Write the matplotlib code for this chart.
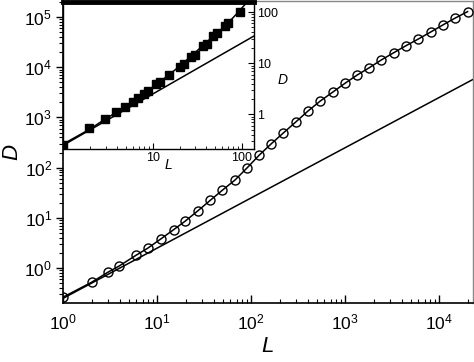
import matplotlib
matplotlib.use("Agg")
import matplotlib.pyplot as plt
import numpy as np

plt.rcParams['font.family'] = ['Liberation Sans', 'DejaVu Sans']
plt.rcParams['mathtext.default'] = 'regular'

# main data (open circles + curve)
main_L = [1, 2.0, 2.97, 3.94, 5.93, 7.96, 11.0, 14.9, 19.9, 26.9, 36.6, 49.1, 67.1, 90.6,
          121, 162, 219, 297, 401, 542, 739, 993, 1340, 1800, 2410, 3270, 4420, 5980,
          8100, 10900, 14800, 20000]
main_D = [0.264, 0.52, 0.82, 1.10, 1.79, 2.50, 3.84, 5.79, 8.64, 13.7, 22.3, 35.3, 56.6, 99.5,
          176, 295, 489, 809, 1340, 2120, 3210, 4780, 7000, 9770, 13900, 19400, 26800, 36400,
          50200, 69300, 95500, 128000]

# straight reference line
line_L = [1, 30000]
line_D = [0.25, 7500]

# inset data (filled squares)
inset_L = [1, 1.95, 2.95, 3.88, 4.9, 5.97, 6.9, 8.0, 8.9, 10.9, 12.2, 15.1, 20.4, 22.2,
           27.1, 29.5, 36.6, 40.2, 47.6, 52, 64.9, 70.1, 94.8]
inset_D = [0.254, 0.54, 0.82, 1.10, 1.42, 1.75, 2.07, 2.48, 2.92, 3.89, 4.37, 5.91, 8.58, 9.69,
           13.1, 14.5, 21.5, 24.2, 34.6, 38.5, 54.2, 62.1, 102]

main_xticks = [1, 10, 100, 1000, 10000]
main_xticklabels = ['$10^{0}$', '$10^{1}$', '$10^{2}$', '$10^{3}$', '$10^{4}$']
main_yticks = [1, 10, 100, 1000, 10000, 100000]
main_yticklabels = ['$10^{0}$', '$10^{1}$', '$10^{2}$', '$10^{3}$', '$10^{4}$', '$10^{5}$']
inset_yticks = [1, 10, 100]
inset_yticklabels = ['1', '10', '100']
inset_xticks = [10, 100]
inset_xticklabels = ['10', '100']

W, H = 474, 362
fig = plt.figure(figsize=(W / 100, H / 100), dpi=100)

def fx(px):
    return px / W

def fy(py):
    return 1 - py / H

ax = fig.add_axes([fx(63.3), fy(303), fx(473) - fx(63.3), fy(1) - fy(303)])
ax.plot(main_L, main_D, '-', color='k', lw=1.1, zorder=2)
ax.plot(main_L, main_D, 'o', mfc='none', mec='k', ms=6.5, mew=1.0, zorder=3)
ax.plot(line_L, line_D, '-', color='k', lw=1.1)
ax.set_xscale('log')
ax.set_yscale('log')
ax.set_xlim(1, 10 ** 4.359)
ax.set_ylim(10 ** -0.697, 10 ** 5.319)
ax.set_xticks(main_xticks)
ax.set_xticklabels(main_xticklabels)
ax.set_yticks(main_yticks)
ax.set_yticklabels(main_yticklabels)
ax.tick_params(axis='x', which='both', direction='in', labelsize=12.5, pad=7)
ax.tick_params(axis='x', which='major', length=6, width=1)
ax.tick_params(axis='x', which='minor', length=3, width=0.8)
ax.tick_params(axis='y', which='both', direction='out', labelsize=12.5, pad=3)
ax.tick_params(axis='y', which='major', length=5, width=1)
ax.tick_params(axis='y', which='minor', length=3, width=0.8)
ax.xaxis.set_minor_locator(matplotlib.ticker.LogLocator(base=10, subs=np.arange(2, 10)))
ax.yaxis.set_minor_locator(matplotlib.ticker.LogLocator(base=10, subs=np.arange(2, 10)))
ax.xaxis.set_minor_formatter(matplotlib.ticker.NullFormatter())
ax.yaxis.set_minor_formatter(matplotlib.ticker.NullFormatter())
for s in ['left', 'bottom']:
    ax.spines[s].set_linewidth(1.2)
for s in ['top', 'right']:
    ax.spines[s].set_color('#888888')
    ax.spines[s].set_linewidth(1.0)
ax.set_xlabel('L', fontsize=16, style='italic')
ax.set_ylabel('D', fontsize=16, style='italic')
ax.xaxis.set_label_coords((267 - 63.3) / 409.7, -0.11)
ax.yaxis.set_label_coords(-0.10, 0.5)

ins = fig.add_axes([fx(63.3), fy(149), fx(254) - fx(63.3), fy(1.5) - fy(149)])
ins.set_facecolor('white')
ins.plot(main_L, main_D, '-', color='k', lw=1.1)
ins.plot(line_L, line_D, '-', color='k', lw=1.1)
ins.plot(inset_L, inset_D, 's', color='k', ms=5.5)
ins.set_xscale('log')
ins.set_yscale('log')
ins.set_xlim(1, 10 ** 2.134)
ins.set_ylim(10 ** -0.676, 10 ** 2.206)
ins.yaxis.tick_right()
ins.set_yticks(inset_yticks)
ins.set_yticklabels(inset_yticklabels)
ins.set_xticks(inset_xticks)
ins.set_xticklabels(inset_xticklabels)
ins.xaxis.set_minor_locator(matplotlib.ticker.LogLocator(base=10, subs=np.arange(2, 10)))
ins.yaxis.set_minor_locator(matplotlib.ticker.LogLocator(base=10, subs=np.arange(2, 10)))
ins.xaxis.set_minor_formatter(matplotlib.ticker.NullFormatter())
ins.yaxis.set_minor_formatter(matplotlib.ticker.NullFormatter())
ins.tick_params(axis='both', which='both', direction='in', labelsize=9, pad=2)
ins.tick_params(axis='both', which='major', length=4, width=0.8)
ins.tick_params(axis='both', which='minor', length=2, width=0.6)
ins.tick_params(axis='y', which='both', left=False, right=True, labelleft=False, labelright=True)
ins.spines['top'].set_linewidth(3.5)
for s in ['left', 'right', 'bottom']:
    ins.spines[s].set_linewidth(1.0)
ins.set_xlabel('L', fontsize=10, style='italic')
ins.set_ylabel('D', fontsize=10, style='italic', rotation=0)
ins.yaxis.set_label_position('right')
ins.xaxis.set_label_coords((168 - 63.3) / 190.7, -0.06)
ins.yaxis.set_label_coords((283 - 63.3) / 190.7, (149 - 73) / 147.5)

fig.savefig('out.png', dpi=100)
